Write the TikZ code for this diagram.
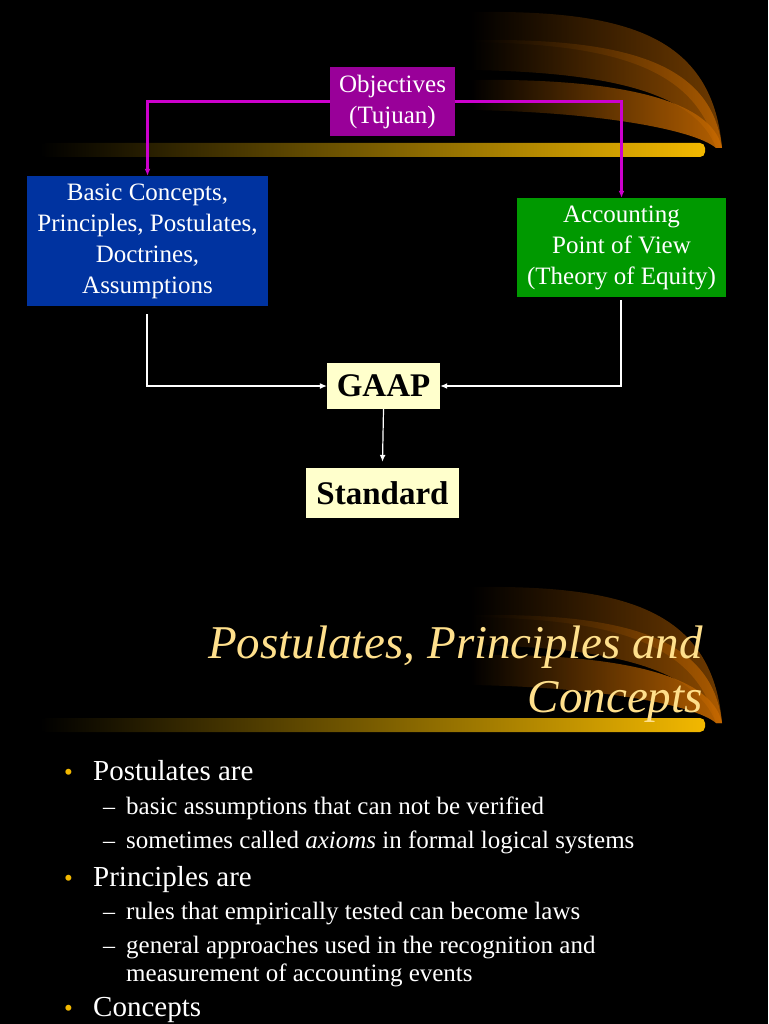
\documentclass[tikz,border=0pt]{standalone}
\usepackage{fontspec}
\setmainfont{Liberation Serif}
\definecolor{gold}{HTML}{F2B800}
\definecolor{orng}{HTML}{C86A00}
\definecolor{purp}{HTML}{990099}
\definecolor{mag}{HTML}{CC00CC}
\definecolor{blu}{HTML}{0033A0}
\definecolor{grn}{HTML}{009900}
\definecolor{cream}{HTML}{FFFFCC}
\definecolor{ttl}{HTML}{FFE08C}
\begin{document}
\begin{tikzpicture}[x=1pt,y=-1pt,
 box/.style={inner sep=0pt,align=center,font=\fontsize{25}{31}\selectfont},
 wline/.style={draw=white,line width=1.2pt,-{Latex[length=7pt,width=6pt]}},
 mline/.style={draw=mag,line width=2.4pt,-{Latex[length=7pt,width=6pt]}},
 bul/.style={anchor=base west,text=white,font=\fontsize{29}{32}\selectfont,inner sep=0pt},
 sub/.style={anchor=base west,text=white,font=\fontsize{25}{28}\selectfont,inner sep=0pt,align=left}]
\usetikzlibrary{arrows.meta}
\fill[black] (0,0) rectangle (768,1024);
\useasboundingbox (0,0) rectangle (768,1024);
% swooshes
\foreach \oy in {0,575}{
 \foreach \t/\op in {12/0.55,40/0.7,80/0.9}{
  \shade[left color=black,right color=orng,opacity=\op]
   (470,\t+\oy) .. controls (620,\t-2+\oy) and (712,\t+20+\oy) .. (722,148+\oy)
   -- (716,148+\oy) .. controls (695,\t+50+\oy) and (600,\t+32+\oy) .. (470,\t+30+\oy) -- cycle;
 }
 \shade[left color=black,right color=gold,rounded corners=5pt]
  (40,143+\oy) rectangle (705,157+\oy);
}
% nodes
\node[box,fill=purp,text=white,minimum width=125pt,minimum height=69pt] (obj) at (392.5,101.5) {Objectives\\(Tujuan)};
\node[box,fill=blu,text=white,minimum width=241pt,minimum height=130pt] (bas) at (147.5,241) {Basic Concepts,\\Principles, Postulates,\\Doctrines,\\Assumptions};
\node[box,fill=grn,text=white,minimum width=209pt,minimum height=99pt] (acc) at (621.5,247.5) {Accounting\\Point of View\\(Theory of Equity)};
\node[box,fill=cream,text=black,minimum width=113pt,minimum height=46pt,font=\bfseries\fontsize{33}{36}\selectfont] (gaap) at (383.5,386) {GAAP};
\node[box,fill=cream,text=black,minimum width=153pt,minimum height=50pt,font=\bfseries\fontsize{33}{36}\selectfont] (std) at (382.5,493) {Standard};
\coordinate (bl) at (147,314);
\coordinate (gr) at (621,300);
\draw[mline] (obj.west) -| (bas.north);
\draw[mline] (obj.east) -| (acc.north);
\draw[wline] (bl) |- (gaap.west);
\draw[wline] (gr) |- (gaap.east);
\draw[wline] (gaap.south) -- ([yshift=6pt]std.north);
% title
\node[anchor=base east,text=ttl,inner sep=0pt,font=\itshape\fontsize{47}{54}\selectfont] (t1) at (703,658) {Postulates, Principles and};
\node[anchor=base east,text=ttl,inner sep=0pt,font=\itshape\fontsize{47}{54}\selectfont] (t2) at (703,712) {Concepts};
% bullets
\foreach \y in {780,886,1016}{\node[anchor=base west,text=gold,inner sep=0pt,font=\fontsize{25}{28}\selectfont] at (64,\y) {•};}
\foreach \y in {814,848,919,953}{\node[anchor=base west,text=white,inner sep=0pt,font=\fontsize{24}{28}\selectfont] at (103,\y) {–};}
\node[bul] (p1) at (93,780) {Postulates are};
\node[sub] (s1) at (126,814) {basic assumptions that can not be verified};
\node[sub] (s2) at (126,848) {sometimes called \textit{axioms} in formal logical systems};
\node[bul] (p2) at (93,886) {Principles are};
\node[sub] (s3) at (126,919) {rules that empirically tested can become laws};
\node[sub] (s4) at (126,953) {general approaches used in the recognition and};
\node[sub] (s5) at (126,981) {measurement of accounting events};
\node[bul] (p3) at (93,1016) {Concepts};
\end{tikzpicture}
\end{document}
